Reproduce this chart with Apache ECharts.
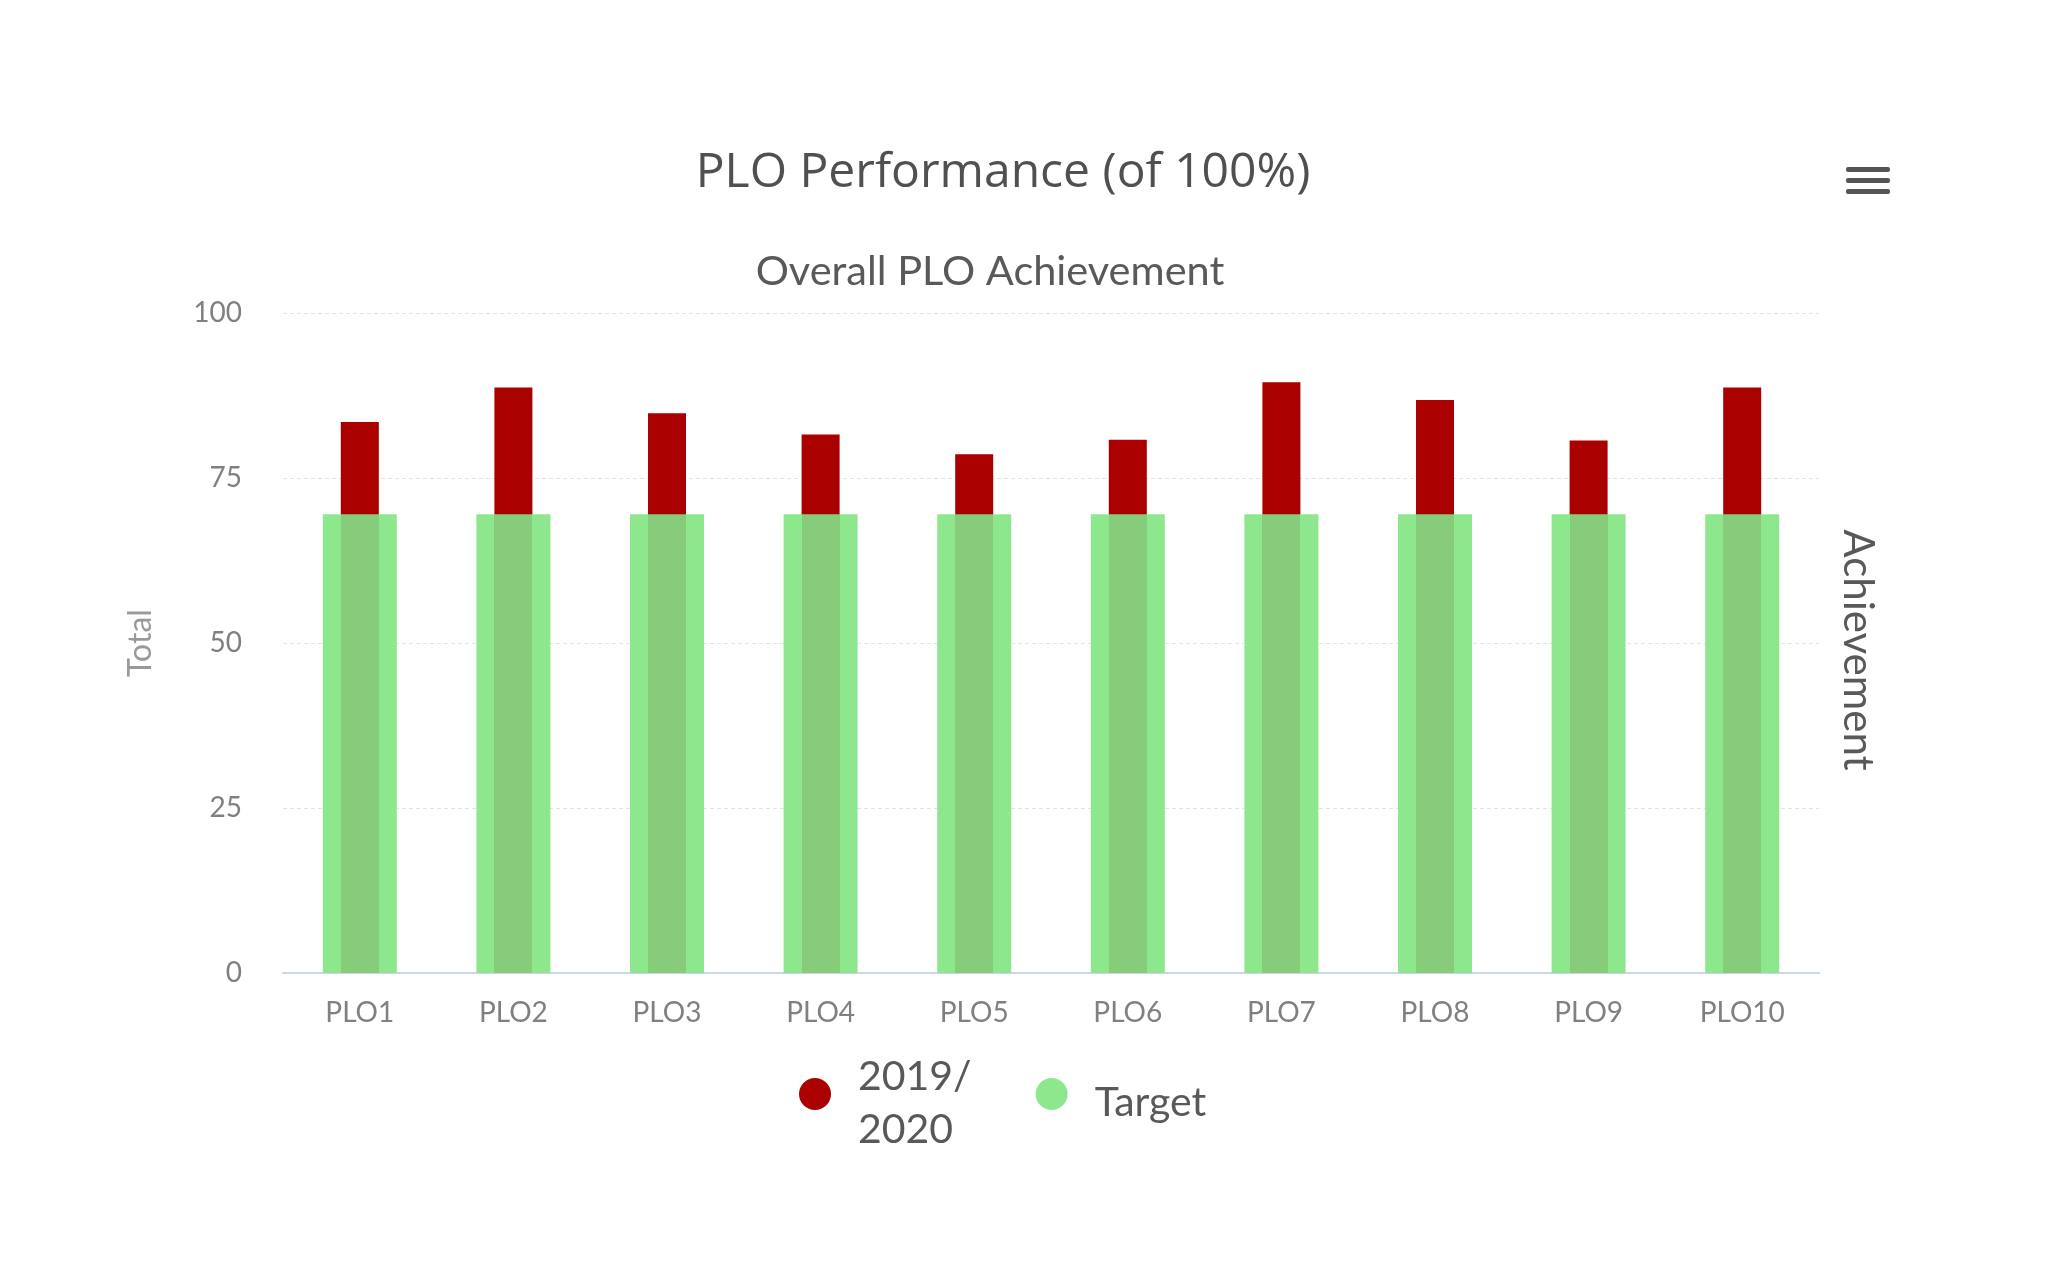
<!DOCTYPE html>
<html>
<head>
<meta charset="utf-8">
<script src="https://cdn.jsdelivr.net/npm/echarts@6/dist/echarts.min.js"></script>
<style>
  html, body { margin: 0; padding: 0; background: #ffffff; }
  #chart { width: 2048px; height: 1262px; }
</style>
</head>
<body>
<div id="chart"></div>
<script>
const categories = ['PLO1','PLO2','PLO3','PLO4','PLO5','PLO6','PLO7','PLO8','PLO9','PLO10'];
const achievement = [83.5, 88.7, 84.8, 81.6, 78.6, 80.8, 89.5, 86.8, 80.7, 88.7];
const target = [69.5, 69.5, 69.5, 69.5, 69.5, 69.5, 69.5, 69.5, 69.5, 69.5];
const yTicks = [0, 25, 50, 75, 100];

const chart = echarts.init(document.getElementById('chart'), null, { renderer: 'canvas' });

const greenGradient = new echarts.graphic.LinearGradient(0, 0, 1, 0, [
  { offset: 0, color: '#8de88d' },
  { offset: 0.243, color: '#8de88d' },
  { offset: 0.243, color: '#86cc7a' },
  { offset: 0.757, color: '#86cc7a' },
  { offset: 0.757, color: '#8de88d' },
  { offset: 1, color: '#8de88d' }
]);

chart.setOption({
  animation: false,
  backgroundColor: '#ffffff',
  title: [
    {
      text: 'PLO Performance (of 100%)',
      left: 1003, top: 147, textAlign: 'center', padding: 0,
      textStyle: { fontFamily: 'Open Sans', fontSize: 48, fontWeight: 'normal', color: '#505050', lineHeight: 52 }
    },
    {
      text: 'Overall PLO Achievement',
      left: 990, top: 249, textAlign: 'center', padding: 0,
      textStyle: { fontFamily: 'Lato', fontSize: 41.5, fontWeight: 'normal', color: '#595959', lineHeight: 46 }
    }
  ],
  legend: {
    left: 799, top: 1032, padding: 0,
    itemWidth: 32, itemHeight: 32, itemGap: 64,
    icon: 'circle',
    data: [
      { name: '2019/2020', itemStyle: { color: '#aa0000' } },
      { name: 'Target', itemStyle: { color: '#8de88d' } }
    ],
    formatter: function (n) {
      return n === '2019/2020' ? '{s|\u200b}\n2019/\n2020' : '{s|\u200b}\n' + n;
    },
    textStyle: {
      fontFamily: 'Lato', fontSize: 41, color: '#595959', lineHeight: 53, padding: [0, 0, 0, 22],
      rich: {
        s: { fontSize: 10, lineHeight: 18 }
      }
    }
  },
  grid: { left: 283, right: 229, top: 313, bottom: 289, containLabel: false },
  xAxis: [
    {
      type: 'category', data: categories,
      axisLine: { show: true, lineStyle: { color: '#ccd6eb', width: 2 } },
      axisTick: { show: false },
      axisLabel: { fontFamily: 'Lato', fontSize: 28, color: '#808080', margin: 26 }
    },
    {
      type: 'category', data: categories, show: false
    }
  ],
  yAxis: [
    {
      type: 'value', min: 0, max: 100, interval: 25,
      name: 'Total', nameLocation: 'middle', nameGap: 126, nameRotate: 90,
      nameTextStyle: { fontFamily: 'Lato', fontSize: 32, color: '#999999' },
      axisLine: { show: false }, axisTick: { show: false },
      axisLabel: {
        fontFamily: 'Lato', fontSize: 28, color: '#808080', margin: 41,
        formatter: function (v) { return yTicks.indexOf(v) >= 0 ? String(v) : ''; }
      },
      splitLine: { show: true, lineStyle: { color: '#e3e3e3', width: 1, type: [4, 3] } }
    }
  ],
  series: [
    {
      name: '2019/2020', type: 'bar', xAxisIndex: 1, yAxisIndex: 0,
      data: achievement, barWidth: 38, z: 2,
      itemStyle: { color: '#aa0000' }
    },
    {
      name: 'Target', type: 'bar', xAxisIndex: 0, yAxisIndex: 0,
      data: target, barWidth: 74, z: 3,
      itemStyle: { color: greenGradient }
    }
  ],
  graphic: [
    {
      type: 'text', x: 1858, y: 650, rotation: -Math.PI / 2,
      style: {
        text: 'Achievement', fontFamily: 'Lato', fontSize: 42, fill: '#595959',
        align: 'center', verticalAlign: 'middle'
      }
    },
    {
      type: 'group', left: 1846, top: 167,
      children: [
        { type: 'rect', shape: { x: 0, y: 0, width: 44, height: 5, r: 2 }, style: { fill: '#555555' } },
        { type: 'rect', shape: { x: 0, y: 11, width: 44, height: 5, r: 2 }, style: { fill: '#555555' } },
        { type: 'rect', shape: { x: 0, y: 22, width: 44, height: 5, r: 2 }, style: { fill: '#555555' } }
      ]
    }
  ]
});
</script>
</body>
</html>
